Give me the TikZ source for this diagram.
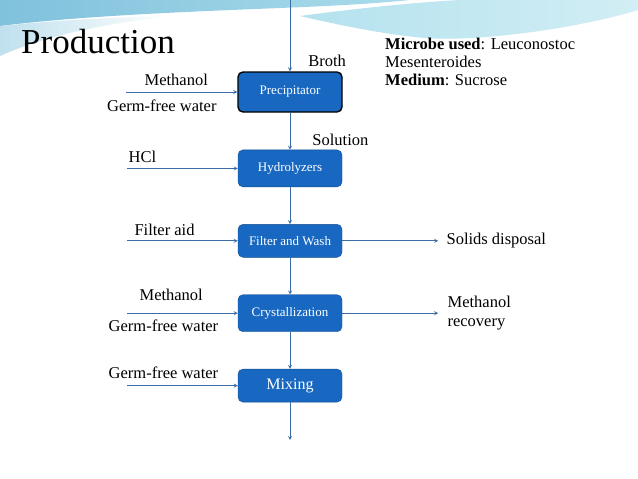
\documentclass[tikz,border=0pt]{standalone}
\usepackage{fontspec}
\setmainfont{Liberation Serif}
\usepackage{xcolor}
\usetikzlibrary{positioning}

\definecolor{boxblue}{RGB}{24,104,194}
\definecolor{boxedge}{RGB}{20,78,140}
\definecolor{flowline}{RGB}{58,108,165}
\definecolor{skyblue}{RGB}{128,193,220}
\definecolor{skylight}{RGB}{180,226,238}

\tikzset{
  unit/.style={draw=boxedge, fill=boxblue, rounded corners=5pt, text=white,
    minimum width=104pt, font=\fontsize{13}{15}\selectfont},
  lbl/.style={font=\fontsize{16.5}{19}\selectfont, inner sep=2pt},
  flow/.style={->, draw=flowline, line width=0.8pt}
}

\begin{document}
\begin{tikzpicture}[x=1pt, y=-1pt, >=stealth]
    \useasboundingbox (0,0) rectangle (638,479);
    % slide background
    \fill[white] (0,0) rectangle (638,479);
    \shade[left color=skyblue, right color=skylight!80!skyblue]
      (0,0) -- (410,0) .. controls (370,4) and (330,6) .. (280,8)
      .. controls (180,12) and (80,16) .. (0,26) -- cycle;
    \shade[left color=skyblue!50, right color=white]
      (0,26) .. controls (60,20) and (120,17) .. (170,16)
      .. controls (90,26) and (40,38) .. (0,56) -- cycle;
    \shade[left color=skylight, right color=skylight!60]
      (300,16) .. controls (360,8) and (420,2) .. (460,0) -- (638,0) -- (638,10)
      .. controls (580,28) and (480,42) .. (425,38)
      .. controls (380,34) and (335,24) .. (300,16) -- cycle;

    \node[anchor=west, inner sep=0pt, font=\fontsize{35}{38}\selectfont] (title) at (21,42) {Production};
    \node[anchor=north west, align=left, inner sep=0pt,
          font=\fontsize{16.5}{17.8}\selectfont] (info) at (385,38)
      {\textbf{Microbe used}: Leuconostoc\\Mesenteroides\\\textbf{Medium}: Sucrose};

    % process units
    \node[unit, draw=black, line width=1.4pt, minimum height=40pt] (P) at (290,92) {Precipitator};
    \node[unit, minimum height=37pt, below=37pt of P] (H) {Hydrolyzers};
    \node[unit, minimum height=33pt, below=37pt of H] (F) {Filter and Wash};
    \node[unit, minimum height=37pt, below=37pt of F] (C) {Crystallization};
    \node[unit, minimum height=33pt, below=37pt of C, font=\fontsize{16}{18}\selectfont] (M) {Mixing};

    \coordinate (top) at (290,0);
    \coordinate (bottom) at (290,440);
    \coordinate[left=111pt of P.west] (inP);
    \coordinate[left=111pt of H.west] (inH);
    \coordinate[left=111pt of F.west] (inF);
    \coordinate[left=111pt of C.west] (inC);
    \coordinate[left=111pt of M.west] (inM);
    \coordinate[right=96pt of F.east] (outF);
    \coordinate[right=96pt of C.east] (outC);

    \draw[flow] (top) -- node[lbl, right=16pt, pos=0.86]{Broth} (P);
    \draw[flow] (P) -- node[lbl, right=20pt, pos=0.73]{Solution} (H);
    \draw[flow] (H) -- (F);
    \draw[flow] (F) -- (C);
    \draw[flow] (C) -- (M);
    \draw[flow] (M) -- (bottom);

    \draw[flow] (inP) -- node[lbl, above=4pt, pos=0.45]{Methanol}
                         node[lbl, below=5pt, pos=0.32]{Germ-free water} (P);
    \draw[flow] (inH) -- node[lbl, above=3pt, pos=0.14]{HCl} (H);
    \draw[flow] (inF) -- node[lbl, above=3pt, pos=0.34]{Filter aid} (F);
    \draw[flow] (inC) -- node[lbl, above=10pt, pos=0.40]{Methanol}
                         node[lbl, below=4pt, pos=0.33]{Germ-free water} (C);
    \draw[flow] (inM) -- node[lbl, above=5pt, pos=0.33]{Germ-free water} (M);

    \draw[flow] (F) -- (outF) node[lbl, right=6pt]{Solids disposal};
    \draw[flow] (C) -- (outC) node[lbl, right=7pt, align=left]{Methanol\\recovery};
\end{tikzpicture}
\end{document}
